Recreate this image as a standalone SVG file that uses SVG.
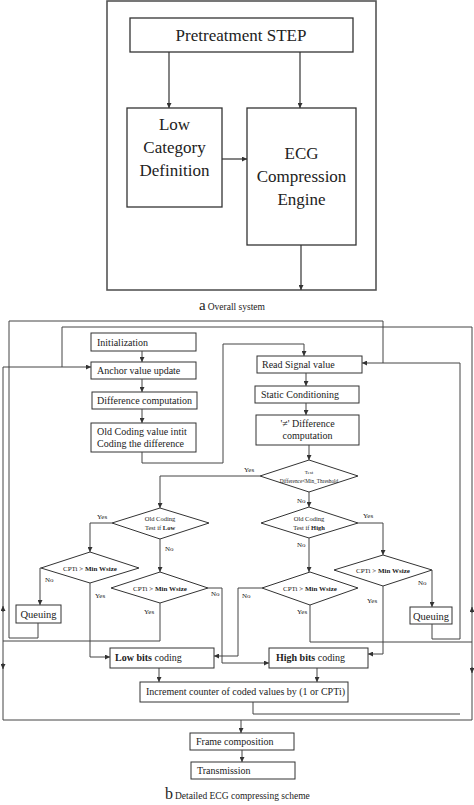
<svg xmlns="http://www.w3.org/2000/svg" width="474" height="805" viewBox="0 0 474 805">
<style>
.bx{fill:#fff;stroke:#333;stroke-width:1}
.bxa{fill:#fff;stroke:#333;stroke-width:1.3}
.ln{fill:none;stroke:#444;stroke-width:1}
.lnA{fill:none;stroke:#333;stroke-width:1.2}
.t{font-family:"Liberation Serif","Times New Roman",serif;fill:#222}
.ta{font-size:17px;text-anchor:middle}
.tb{font-size:10px}
.tm{font-size:10px;text-anchor:middle}
.ts{font-size:7px;text-anchor:middle}
.tl{font-size:7px}
.b{font-weight:bold}
</style>
<defs>
<marker id="ah" viewBox="0 0 6 6" refX="6" refY="3" markerWidth="5" markerHeight="5" orient="auto" markerUnits="userSpaceOnUse"><path d="M0,0 L6,3 L0,6 z" fill="#333"/></marker>
</defs>
<rect width="474" height="805" fill="#fff"/>

<!-- Part a -->
<g id="a-outer"><rect x="107" y="1" width="269" height="289" fill="none" stroke="#555" stroke-width="1.6"/></g>
<g id="a-pre"><rect class="bxa" x="130" y="18" width="223" height="34"/><text class="t ta" x="241" y="41">Pretreatment STEP</text></g>
<g id="a-low"><rect class="bxa" x="127" y="108" width="95" height="99"/>
<text class="t ta" x="174.5" y="130">Low</text><text class="t ta" x="174.5" y="153">Category</text><text class="t ta" x="174.5" y="176">Definition</text></g>
<g id="a-ecg"><rect class="bxa" x="247" y="108" width="109" height="137"/>
<text class="t ta" x="301.5" y="159">ECG</text><text class="t ta" x="301.5" y="182">Compression</text><text class="t ta" x="301.5" y="205">Engine</text></g>
<g id="a-conn">
<path class="lnA" d="M169,52 V108" marker-end="url(#ah)"/>
<path class="lnA" d="M300,52 V108" marker-end="url(#ah)"/>
<path class="lnA" d="M222,159 H247" marker-end="url(#ah)"/>
<path class="lnA" d="M301,245 V290" marker-end="url(#ah)"/>
</g>
<text class="t" x="199" y="310"><tspan font-size="15">a</tspan><tspan font-size="9.5" dx="2">Overall system</tspan></text>

<!-- Part b nodes -->
<g id="init"><rect class="bx" x="91" y="333" width="105" height="18"/><text class="t tb" x="97" y="345.5">Initialization</text></g>
<g id="anchor"><rect class="bx" x="91" y="362" width="105" height="17"/><text class="t tb" x="97" y="374">Anchor value update</text></g>
<g id="diff"><rect class="bx" x="92" y="392" width="105" height="17"/><text class="t tb" x="97" y="404">Difference computation</text></g>
<g id="oldinit"><rect class="bx" x="91" y="423" width="105" height="29"/><text class="t tb" x="97" y="435">Old Coding value intit</text><text class="t tb" x="97" y="447">Coding the difference</text></g>
<g id="read"><rect class="bx" x="257" y="356" width="105" height="17"/><text class="t tb" x="262" y="368">Read Signal value</text></g>
<g id="static"><rect class="bx" x="255" y="386" width="104" height="17"/><text class="t tb" x="261" y="398">Static Conditioning</text></g>
<g id="neq"><rect class="bx" x="256" y="415" width="103" height="30"/><text class="t tm" x="307.5" y="427">'≠' Difference</text><text class="t tm" x="307.5" y="439">computation</text></g>
<g id="test"><polygon class="bx" points="309,460 358,476 309,492 260,476"/><text class="t" x="309" y="474" font-size="5" text-anchor="middle">Test</text><text class="t" x="309" y="483" font-size="5.3" text-anchor="middle">Difference&lt;Min_Threshold</text></g>
<g id="oclow"><polygon class="bx" points="160,508 209,523 160,539 112,523"/><text class="t" x="160" y="521" font-size="6.5" text-anchor="middle">Old Coding</text><text class="t" x="160" y="530" font-size="6.5" text-anchor="middle">Test if <tspan class="b">Low</tspan></text></g>
<g id="ochigh"><polygon class="bx" points="309,507 358,523 309,538 261,523"/><text class="t" x="309" y="521" font-size="6.5" text-anchor="middle">Old Coding</text><text class="t" x="309" y="530" font-size="6.5" text-anchor="middle">Test if <tspan class="b">High</tspan></text></g>
<g id="cpt1"><polygon class="bx" points="90,552 139,568 90,583 41,568"/><text class="t ts" x="90" y="570.5">CPTi &gt; <tspan class="b">Min Wsize</tspan></text></g>
<g id="cpt2"><polygon class="bx" points="160,572 208,588 160,603 111,588"/><text class="t ts" x="160" y="590.5">CPTi &gt; <tspan class="b">Min Wsize</tspan></text></g>
<g id="cpt3"><polygon class="bx" points="310,572 358,588 310,605 262,588"/><text class="t ts" x="310" y="590.5">CPTi &gt; <tspan class="b">Min Wsize</tspan></text></g>
<g id="cpt4"><polygon class="bx" points="383,555 432,570 383,586 334,570"/><text class="t ts" x="383" y="572.5">CPTi &gt; <tspan class="b">Min Wsize</tspan></text></g>
<g id="queueL"><rect class="bx" x="16" y="605" width="45" height="18"/><text class="t" x="38.5" y="618" font-size="10.5" text-anchor="middle">Queuing</text></g>
<g id="queueR"><rect class="bx" x="410" y="607" width="42" height="17"/><text class="t" x="431" y="619.5" font-size="10.5" text-anchor="middle">Queuing</text></g>
<g id="lowbits"><rect class="bx" x="110" y="648" width="104" height="20"/><text class="t tb" x="115" y="661"><tspan class="b">Low bits</tspan> coding</text></g>
<g id="highbits"><rect class="bx" x="269" y="648" width="99" height="20"/><text class="t tb" x="276" y="661"><tspan class="b">High bits</tspan> coding</text></g>
<g id="incr"><rect class="bx" x="140" y="682" width="208" height="20"/><text class="t tb" x="146" y="695">Increment counter of coded values by (1 or CPTi)</text></g>
<g id="frame"><rect class="bx" x="190" y="733" width="104" height="17"/><text class="t tb" x="196" y="745">Frame composition</text></g>
<g id="trans"><rect class="bx" x="191" y="762" width="104" height="17"/><text class="t tb" x="197" y="774">Transmission</text></g>

<!-- Part b connectors -->
<g id="connectors">
<path class="ln" d="M142,351 V362" marker-end="url(#ah)"/>
<path class="ln" d="M142,379 V392" marker-end="url(#ah)"/>
<path class="ln" d="M142,409 V423" marker-end="url(#ah)"/>
<path class="ln" d="M142,452 V463 H223 V344 H304 V356" marker-end="url(#ah)"/>
<path class="ln" d="M306,373 V386" marker-end="url(#ah)"/>
<path class="ln" d="M306,403 V415" marker-end="url(#ah)"/>
<path class="ln" d="M309,445 V460" marker-end="url(#ah)"/>
<path class="ln" d="M260,476 H160 V508" marker-end="url(#ah)"/>
<path class="ln" d="M309,492 V507" marker-end="url(#ah)"/>
<path class="ln" d="M112,523 H90 V552" marker-end="url(#ah)"/>
<path class="ln" d="M160,539 V572" marker-end="url(#ah)"/>
<path class="ln" d="M358,523 H383 V555" marker-end="url(#ah)"/>
<path class="ln" d="M309,538 V572" marker-end="url(#ah)"/>
<path class="ln" d="M41,568 H40 V605" marker-end="url(#ah)"/>
<path class="ln" d="M90,583 V657 H110" marker-end="url(#ah)"/>
<path class="ln" d="M38,623 V638 H9 V321 H383 V363 H362" marker-end="url(#ah)"/>
<path class="ln" d="M432,624 V639 H460 V363 H383"/>
<path class="ln" d="M253,702 V714 H460"/>
<path class="ln" d="M160,603 V641 H3 V367 H91" marker-end="url(#ah)"/>
<path class="ln" d="M208,588 H222 V663 H269" marker-end="url(#ah)"/>
<path class="ln" d="M262,588 H238 V656 H214" marker-end="url(#ah)"/>
<path class="ln" d="M310,605 V642 H472 V327 H62 V367"/>
<path class="ln" d="M432,570 V607" marker-end="url(#ah)"/>
<path class="ln" d="M383,586 V654 H368" marker-end="url(#ah)"/>
<path class="ln" d="M159,668 V682" marker-end="url(#ah)"/>
<path class="ln" d="M317,668 V682" marker-end="url(#ah)"/>
<path class="ln" d="M3,641 V720 H472 V642"/>
<path class="ln" d="M241,720 V733" marker-end="url(#ah)"/>
<path class="ln" d="M242,750 V762" marker-end="url(#ah)"/>
<path class="ln" d="M3,612 V606" marker-end="url(#ah)"/>
<path class="ln" d="M3,663 V669" marker-end="url(#ah)"/>
<path class="ln" d="M472,613 V607" marker-end="url(#ah)"/>
<path class="ln" d="M472,667 V673" marker-end="url(#ah)"/>
</g>

<!-- connector labels -->
<g id="labels">
<text class="t tl" x="244" y="472">Yes</text>
<text class="t tl" x="297" y="503">No</text>
<text class="t tl" x="97" y="519">Yes</text>
<text class="t tl" x="165" y="551">No</text>
<text class="t tl" x="363" y="518">Yes</text>
<text class="t tl" x="297" y="547">No</text>
<text class="t tl" x="45" y="582">No</text>
<text class="t tl" x="95" y="598">Yes</text>
<text class="t tl" x="144" y="614">Yes</text>
<text class="t tl" x="211" y="596">No</text>
<text class="t tl" x="242" y="598">No</text>
<text class="t tl" x="297" y="614">Yes</text>
<text class="t tl" x="418" y="585">No</text>
<text class="t tl" x="367" y="603">Yes</text>
</g>
<text class="t" x="165" y="799"><tspan font-size="16">b</tspan><tspan font-size="9.5" dx="2">Detailed ECG compressing scheme</tspan></text>
</svg>
